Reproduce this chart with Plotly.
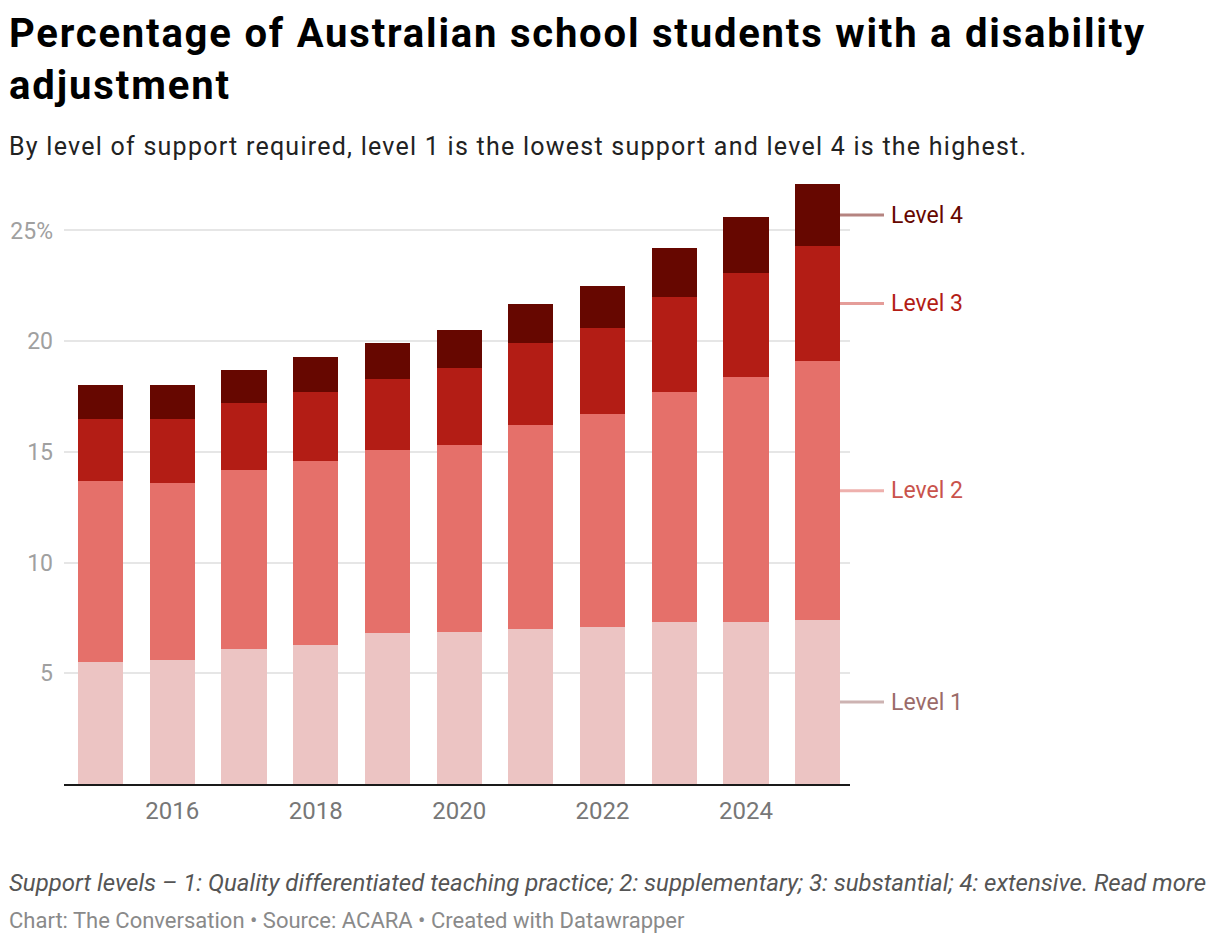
import plotly.graph_objects as go

years = [2015, 2016, 2017, 2018, 2019, 2020, 2021, 2022, 2023, 2024, 2025]
level1 = [5.5, 5.6, 6.1, 6.3, 6.8, 6.85, 7.0, 7.1, 7.3, 7.3, 7.4]
level2 = [8.2, 8.0, 8.1, 8.3, 8.3, 8.45, 9.2, 9.6, 10.4, 11.1, 11.7]
level3 = [2.8, 2.9, 3.0, 3.1, 3.2, 3.5, 3.7, 3.9, 4.3, 4.7, 5.2]
level4 = [1.5, 1.5, 1.5, 1.6, 1.6, 1.7, 1.8, 1.9, 2.2, 2.5, 2.8]

series_names = ["Level 1", "Level 2", "Level 3", "Level 4"]
series_vals = [level1, level2, level3, level4]
bar_colors = ["#ecc4c3", "#e5706a", "#b31d15", "#660700"]
label_colors = ["#9b6b69", "#c9534c", "#b31d15", "#660700"]
line_colors = ["#cdb3b2", "#eeb0ad", "#e59d99", "#b58480"]

y_ticks = [5, 10, 15, 20, 25]
y_ticktext = ["5", "10", "15", "20", "25%"]
x_ticks = [2016, 2018, 2020, 2022, 2024]

W, H = 1220, 944
L, R, T, B = 64, 370, 184, 160
PW = W - L - R
PH = H - T - B


def px_x(p):
    return (p - L) / PW


def px_y(p):
    return (H - B - p) / PH


fig = go.Figure()
for name, vals, col in zip(series_names, series_vals, bar_colors):
    fig.add_trace(go.Bar(x=years, y=vals, name=name, marker=dict(color=col, line=dict(width=0)),
                         showlegend=False))

total_last = sum(v[-1] for v in series_vals)

# labels at the midpoints of the last bar's segments
cum = 0
for name, vals, lc, tc in zip(series_names, series_vals, line_colors, label_colors):
    mid = cum + vals[-1] / 2
    cum += vals[-1]
    fig.add_shape(type="line", xref="paper", yref="y", x0=px_x(840), x1=px_x(884), y0=mid, y1=mid,
                  line=dict(color=lc, width=3))
    fig.add_annotation(xref="paper", yref="y", x=px_x(889), y=mid, text=name, showarrow=False,
                       xanchor="left", yanchor="middle", font=dict(family="Roboto", size=23, color=tc))

fig.add_annotation(xref="paper", yref="paper", x=px_x(7), y=px_y(60),
                   text=("<span style='letter-spacing:1.8px'><b>Percentage of Australian school students "
                         "with a disability</b></span><br><span style='letter-spacing:1.9px'><b>adjustment</b></span>"),
                   showarrow=False, xanchor="left", yanchor="middle", align="left",
                   font=dict(family="Roboto", size=40, color="#000000"))
fig.add_annotation(xref="paper", yref="paper", x=px_x(7), y=px_y(147),
                   text=("<span style='letter-spacing:1.25px'>By level of support required, level 1 is the "
                         "lowest support and level 4 is the highest.</span>"),
                   showarrow=False, xanchor="left", yanchor="middle", align="left",
                   font=dict(family="Roboto", size=25, color="#222222"))
fig.add_annotation(xref="paper", yref="paper", x=px_x(7), y=px_y(883),
                   text="<i>Support levels – 1: Quality differentiated teaching practice; 2: supplementary; 3: substantial; 4: extensive. Read more</i>",
                   showarrow=False, xanchor="left", yanchor="middle", align="left",
                   font=dict(family="Roboto", size=24, color="#555555"))
fig.add_annotation(xref="paper", yref="paper", x=px_x(7), y=px_y(920),
                   text="Chart: The Conversation • Source: ACARA • Created with Datawrapper",
                   showarrow=False, xanchor="left", yanchor="middle", align="left",
                   font=dict(family="Roboto", size=22, color="#8a8a8a"))

fig.update_layout(
    width=W, height=H,
    margin=dict(l=L, r=R, t=T, b=B, pad=0, autoexpand=False),
    barmode="stack", bargap=0.372,
    plot_bgcolor="white", paper_bgcolor="white",
    font=dict(family="Roboto"),
    xaxis=dict(range=[2014.49, 2025.45], tickvals=x_ticks, ticktext=[str(v) for v in x_ticks],
               showgrid=False, showline=True, linecolor="#1a1a1a", linewidth=2, ticks="",
               tickfont=dict(family="Roboto", size=24, color="#777777"), ticklabelstandoff=4,
               zeroline=False, fixedrange=True, automargin=False),
    yaxis=dict(range=[0, total_last], tickvals=y_ticks, ticktext=y_ticktext, showgrid=True,
               gridcolor="#e6e6e6", gridwidth=2, zeroline=False, showline=False, ticks="",
               tickfont=dict(family="Roboto", size=23, color="#a0a0a0"), ticklabelstandoff=10,
               fixedrange=True, automargin=False),
)

fig.write_html("out.html")
